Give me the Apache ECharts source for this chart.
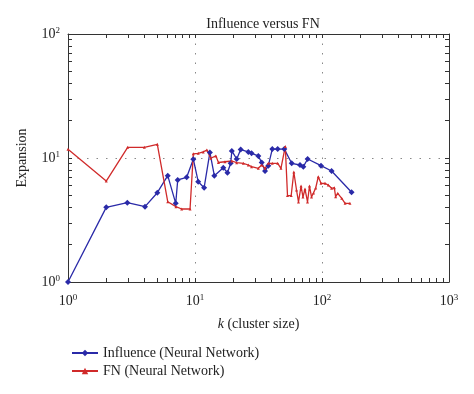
<!DOCTYPE html>
<html>
<head>
<meta charset="utf-8">
<script src="https://cdn.jsdelivr.net/npm/echarts@6/dist/echarts.min.js"></script>
<style>html,body{margin:0;padding:0;background:#fff}#c{width:474px;height:394px}</style>
</head>
<body>
<div id="c"></div>
<script>
var titleText = 'Influence versus FN';
var seriesNames = ['Influence (Neural Network)', 'FN (Neural Network)'];
var xTicks = [1, 10, 100, 1000];
var yTicks = [1, 10, 100];

var influenceX = [1, 2.0, 2.93, 4.04, 5.05, 6.1, 7.05, 7.31, 8.6, 9.7, 10.6, 11.8, 13.1, 14.2, 16.7, 18.0, 19.1, 19.5, 21.3, 22.9, 26.3, 27.9, 31.5, 33.5, 35.6, 37.8, 40.6, 44.8, 50.5, 57.7, 67.1, 71.3, 77.1, 98.2, 119, 171];
var influenceY = [1, 4.0, 4.36, 4.05, 5.25, 7.2, 4.31, 6.65, 6.99, 9.77, 6.44, 5.76, 11.1, 7.2, 8.35, 7.61, 9.06, 11.4, 9.82, 11.7, 11.2, 10.9, 10.4, 9.2, 7.85, 8.67, 11.8, 11.8, 11.8, 9.06, 8.78, 8.51, 9.82, 8.67, 7.85, 5.29];

var fnX = [1, 2.0, 2.95, 3.99, 5.05, 6.1, 7.08, 7.86, 9.14, 9.7, 10.6, 11.6, 12.4, 13.3, 14.6, 15.3, 17.2, 19.5, 21.3, 24.0, 26.3, 27.9, 31.5, 33.5, 35.6, 37.8, 40.6, 44.8, 47.5, 51.4, 53.5, 57.2, 60.0, 63.0, 65.3, 68.4, 70.8, 73.5, 76.9, 79.7, 82.7, 85.7, 89.2, 93.5, 98.2, 105.6, 112, 119, 125, 128, 133, 143, 152, 166];
var fnY = [11.75, 6.52, 12.2, 12.2, 12.9, 4.44, 4.05, 3.88, 3.88, 10.8, 10.9, 11.2, 11.6, 9.95, 10.4, 9.2, 9.33, 9.46, 9.16, 9.06, 8.78, 8.51, 8.26, 8.78, 8.26, 9.06, 9.06, 9.06, 8.26, 12.4, 4.98, 4.98, 7.71, 5.52, 4.42, 5.94, 4.85, 5.62, 4.42, 5.94, 4.85, 5.22, 5.73, 7.07, 6.25, 6.25, 6.06, 5.70, 5.76, 4.87, 5.19, 4.73, 4.31, 4.31];

function pairs(xs, ys) { return xs.map(function (x, i) { return [x, ys[i]]; }); }
function minorValues(lo, hi) {
  var out = [];
  for (var d = lo; d < hi; d *= 10) { for (var k = 1; k < 10; k++) out.push(d * k); }
  out.push(hi);
  return out;
}
function powLabel(v) {
  var n = Math.round(Math.log10(v));
  return '{b|10}{s|' + n + '}';
}
var FONT = '"Liberation Serif", "DejaVu Serif", serif';
var labelRich = {
  b: { fontFamily: FONT, fontSize: 14, color: '#222' },
  s: { fontFamily: FONT, fontSize: 9, color: '#222', padding: [0, 0, 7, 0] }
};
var BLUE = '#2a2aa8', RED = '#d02a2a';

function mainX() {
  return {
    type: 'log', logBase: 10, min: 1, max: 1000, position: 'bottom',
    axisLine: { show: true, onZero: false, lineStyle: { color: '#333', width: 1 } },
    axisTick: { show: false },
    axisLabel: { show: true, formatter: powLabel, rich: labelRich, margin: 11 },
    splitLine: { show: true, lineStyle: { color: '#888', type: [1.5, 8], width: 1 } },
    name: '{i|k} (cluster size)',
    nameLocation: 'middle', nameGap: 35,
    nameTextStyle: { fontFamily: FONT, fontSize: 14, color: '#222', rich: { i: { fontFamily: FONT, fontStyle: 'italic', fontSize: 14, color: '#222' } } }
  };
}
function mainY() {
  return {
    type: 'log', logBase: 10, min: 1, max: 100, position: 'left',
    axisLine: { show: true, onZero: false, lineStyle: { color: '#333', width: 1 } },
    axisTick: { show: false },
    axisLabel: { show: true, formatter: powLabel, rich: labelRich, margin: 8 },
    splitLine: { show: true, lineStyle: { color: '#888', type: [1.5, 8], width: 1 } },
    name: 'Expansion',
    nameLocation: 'middle', nameGap: 39, nameRotate: 90,
    nameTextStyle: { fontFamily: FONT, fontSize: 14, color: '#222' }
  };
}
function tickAxis(pos, lo, hi, lineShow) {
  return {
    type: 'log', logBase: 10, min: lo, max: hi, position: pos,
    axisLine: { show: lineShow, onZero: false, lineStyle: { color: '#333', width: 1 } },
    axisTick: { show: true, inside: true, length: 4, customValues: minorValues(lo, hi), lineStyle: { color: '#333' } },
    axisLabel: { show: false },
    splitLine: { show: false }
  };
}

var chart = echarts.init(document.getElementById('c'), null, { renderer: 'canvas' });
chart.setOption({
  animation: false,
  backgroundColor: '#fff',
  title: { text: titleText, left: 258, top: 12, textAlign: 'center',
    textStyle: { fontFamily: FONT, fontSize: 14, fontWeight: 'normal', color: '#222' } },
  grid: { left: 68, right: 25, top: 34, bottom: 112, containLabel: false },
  xAxis: [mainX(), tickAxis('top', 1, 1000, true), tickAxis('bottom', 1, 1000, false)],
  yAxis: [mainY(), tickAxis('right', 1, 100, true), tickAxis('left', 1, 100, false)],
  legend: {
    orient: 'vertical', left: 66, top: 341, itemWidth: 26, itemHeight: 8, itemGap: 4,
    textStyle: { fontFamily: FONT, fontSize: 14, color: '#222' },
    data: seriesNames
  },
  series: [
    { name: seriesNames[0], type: 'line', xAxisIndex: 0, yAxisIndex: 0,
      data: pairs(influenceX, influenceY), symbol: 'diamond', symbolSize: 6,
      lineStyle: { color: BLUE, width: 1.3 }, itemStyle: { color: BLUE } },
    { name: seriesNames[1], type: 'line', xAxisIndex: 0, yAxisIndex: 0,
      data: pairs(fnX, fnY), symbol: 'triangle', symbolSize: 3,
      lineStyle: { color: RED, width: 1.3 }, itemStyle: { color: RED } }
  ]
});
</script>
</body>
</html>
